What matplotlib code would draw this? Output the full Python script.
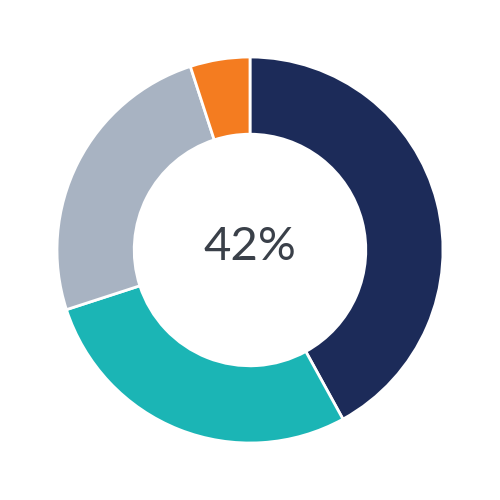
import matplotlib
matplotlib.use("Agg")
import matplotlib.pyplot as plt

labels = ["Navy", "Teal", "Gray", "Orange"]
values = [42, 28, 25, 5]
colors = ["#1c2b59", "#1bb5b5", "#a8b3c2", "#f47c20"]
center_text = "42%"

fig = plt.figure(figsize=(5, 5), dpi=100)
ax = fig.add_axes([0, 0, 1, 1])
ax.pie(values, colors=colors, startangle=90, counterclock=False,
       radius=1.0,
       wedgeprops=dict(width=0.4, edgecolor="white", linewidth=2))
ax.text(0, 0.015, center_text, ha="center", va="center", fontsize=34,
        color="#3a4049", family="Lato")
lim = 250 / 193
ax.set_xlim(-lim, lim)
ax.set_ylim(-lim, lim)
ax.set_aspect("equal")
ax.axis("off")

fig.savefig("out.png", dpi=100, facecolor="white")
